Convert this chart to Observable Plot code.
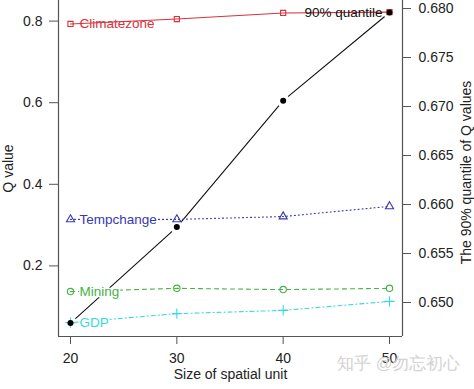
<!DOCTYPE html>
<html><head><meta charset="utf-8">
<script src="https://cdn.jsdelivr.net/npm/d3@7"></script>
<script src="https://cdn.jsdelivr.net/npm/@observablehq/plot@0.6"></script>
<style>body{margin:0;background:#fff;} #chart svg{display:block;}</style>
</head><body><div id="chart"></div>
<script>
// ---- data ----
const sizes = [20, 30, 40, 50];
const climatezone = [0.793, 0.805, 0.820, 0.822];
const tempchange = [0.314, 0.314, 0.321, 0.346];
const mining = [0.137, 0.145, 0.142, 0.145];
const gdp = [0.061, 0.083, 0.091, 0.113];
const quantile90 = [0.6479, 0.6577, 0.6706, 0.6796];   // right axis
const seriesNames = ["Climatezone", "Tempchange", "Mining", "GDP"];
const quantileName = "90% quantile";
const xTicks = [20, 30, 40, 50];
const leftTicks = [0.2, 0.4, 0.6, 0.8];
const rightTicks = [0.650, 0.655, 0.660, 0.665, 0.670, 0.675, 0.680];
const xTitle = "Size of spatial unit";
const yTitle = "Q value";
const y2Title = "The 90% quantile of Q values";
const watermark = "知乎 @勿忘初心";

// ---- scales ----
const xDomain = [18.871, 51.223];
const yDomain = [0.027, 0.8505];
const y2Domain = [0.64653, 0.68082];
const toLeft = d3.scaleLinear().domain(y2Domain).range(yDomain);

const colors = ["#d8323c", "#3838b0", "#44b444", "#38d8e2"];
const dashes = [null, "1,3", "4,4", "1,3,4,3"];
const symbols = ["square", "triangle", "circle", "plus"];
const symbolR = [2.9, 3.0, 3.2, 3.4];
const seriesValues = [climatezone, tempchange, mining, gdp];

const series = seriesNames.map((name, k) => sizes.map((s, i) => ({name, size: s, value: seriesValues[k][i]})));
const qData = sizes.map((s, i) => ({size: s, value: toLeft(quantile90[i])}));

const font = "'Liberation Sans', Arial, Helvetica, sans-serif";

const marks = [];
// frame (left, right, bottom)
marks.push(Plot.ruleX([xDomain[0], xDomain[1]], {stroke: "#555", strokeWidth: 1.2}));
marks.push(Plot.ruleY([yDomain[0]], {stroke: "#555", strokeWidth: 1.2}));

// axes
marks.push(Plot.axisX({ticks: xTicks, tickSize: 8, tickPadding: 9, fontSize: 14, stroke: "#555", fill: "#222", label: null}));
marks.push(Plot.axisY({anchor: "left", ticks: leftTicks, tickSize: 9, tickPadding: 7, fontSize: 14, stroke: "#555", fill: "#222",
  label: null, tickFormat: d => d.toFixed(1)}));
marks.push(Plot.axisY({anchor: "right", ticks: rightTicks.map(toLeft), tickSize: 8, tickPadding: 8, fontSize: 14, stroke: "#555", fill: "#222",
  tickFormat: d => toLeft.invert(d).toFixed(3), label: null}));

// axis titles
marks.push(Plot.text([xTitle], {frameAnchor: "bottom", text: d => d, dy: 42, fontSize: 14, fill: "#222", fontFamily: font}));
marks.push(Plot.text([yTitle], {frameAnchor: "left", text: d => d, dx: -50, rotate: -90, textAnchor: "middle", fontSize: 14, fill: "#222", fontFamily: font}));
marks.push(Plot.text([y2Title], {frameAnchor: "right", text: d => d, dx: 64, dy: 4, rotate: -90, textAnchor: "middle", fontSize: 14, fill: "#222", fontFamily: font}));

// black quantile line with gaps around points (type = "b")
marks.push(Plot.line(qData, {x: "size", y: "value", stroke: "#111", strokeWidth: 1.1}));
marks.push(Plot.dot(qData, {x: "size", y: "value", r: 6.5, fill: "white", stroke: "none"}));

// colored series
series.forEach((data, k) => {
  marks.push(Plot.line(data, {x: "size", y: "value", stroke: colors[k], strokeWidth: 1.1, strokeDasharray: dashes[k]}));
  marks.push(Plot.dot(data, {x: "size", y: "value", symbol: () => symbols[k], r: symbolR[k], stroke: colors[k], fill: "none", strokeWidth: 1.1}));
  marks.push(Plot.text([data[0]], {x: "size", y: "value", text: "name", fill: colors[k], fontSize: 13.5, textAnchor: "start", dx: 9, fontFamily: font,
    stroke: k === 0 ? null : "white", strokeWidth: 3, paintOrder: "stroke"}));
});

// black points on top
marks.push(Plot.dot(qData, {x: "size", y: "value", r: 3, fill: "#000", stroke: "none"}));

// 90% quantile label (at last point, left side)
marks.push(Plot.text([qData[qData.length - 1]], {x: "size", y: "value", text: () => quantileName, fill: "#111", fontSize: 13.5, textAnchor: "end", dx: -7, fontFamily: font}));

// watermark
marks.push(Plot.text([watermark], {frameAnchor: "bottom-right", text: d => d, dx: 58, dy: 32, fill: "#d2d2d2", fontSize: 16.5, textAnchor: "end"}));

const chart = Plot.plot({
  width: 474, height: 389,
  marginLeft: 58, marginRight: 72, marginTop: 0, marginBottom: 53,
  x: {domain: xDomain},
  y: {domain: yDomain},
  style: {fontFamily: font, fontSize: "14px", background: "#fff", color: "#222", overflow: "visible"},
  marks
});
document.getElementById("chart").appendChild(chart);
</script>
</body></html>
